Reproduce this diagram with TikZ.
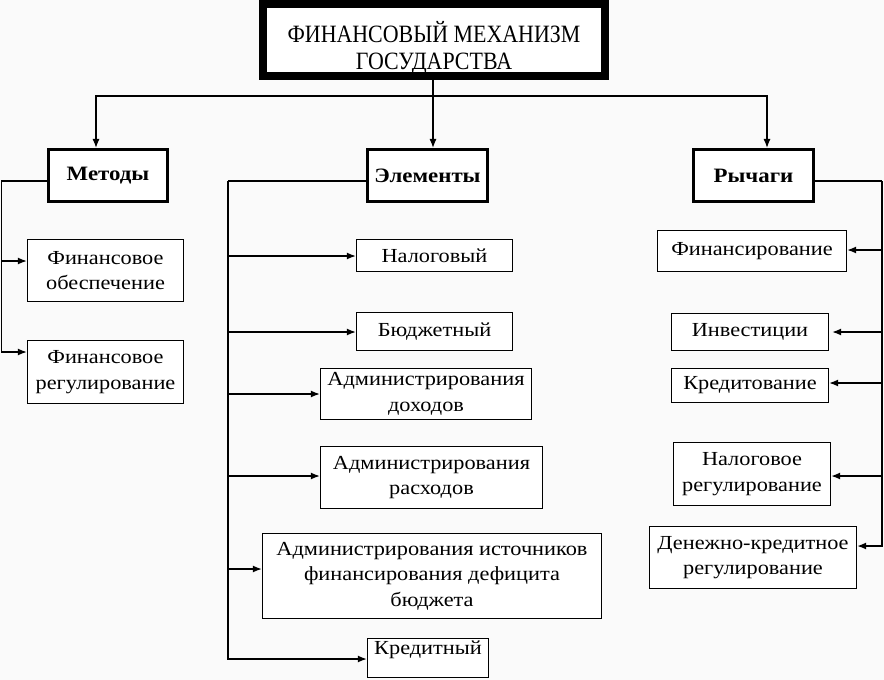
\documentclass[tikz,border=0pt]{standalone}
\usepackage{fontspec}
\setmainfont[FakeStretch=1.12]{Liberation Serif}
\newfontfamily\titlefont[FakeStretch=0.88]{Liberation Serif}
\usetikzlibrary{arrows.meta}

\definecolor{paper}{RGB}{250,250,250}

\tikzset{
  box/.style={draw=black,line width=1.4bp,fill=white,align=center,inner sep=2bp,
    font=\fontsize{20}{25.5}\selectfont},
  headbox/.style={draw=black,line width=3bp,fill=white,inner sep=2bp,
    font=\bfseries\fontsize{20.5}{22}\selectfont},
  topbox/.style={draw=black,line width=8bp,fill=white,inner sep=0bp,
    font=\titlefont\fontsize{25}{27}\selectfont},
  link/.style={line width=1.3bp},
  arr/.style={link,-{Latex[length=9bp,width=7bp]}}
}

\begin{document}
\begin{tikzpicture}[x=1bp,y=-1bp]

% Frame
\fill[paper] (0,0) rectangle (884,680);
\useasboundingbox (0,0) rectangle (884,680);

% Title
\node[topbox,minimum width=342bp,minimum height=72bp] (title) at (434,40)
  {\raisebox{-9.5bp}[\height][\depth]{\begin{tabular}{@{}c@{}}ФИНАНСОВЫЙ МЕХАНИЗМ\\ГОСУДАРСТВА\end{tabular}}};

% Heads
\node[headbox,minimum width=119bp,minimum height=52bp] (metody) at (108,175.5) {Методы};
\node[headbox,minimum width=120bp,minimum height=52bp] (elem) at (427.5,175.5) {Элементы};
\node[headbox,minimum width=120bp,minimum height=52bp] (rych) at (753.5,175.5) {Рычаги};

% Title to heads
\coordinate (tM) at (433,96);
\coordinate (tL) at (96,96);
\coordinate (tR) at (767,96);
\draw[link] (title.south -| tM) -- (tM);
\draw[arr] (tM) -- (tM |- elem.north);
\draw[arr] (tM) -- (tL) -- (tL |- metody.north);
\draw[arr] (tM) -- (tR) -- (tR |- rych.north);

% Methods
\node[box,minimum width=156bp,minimum height=62bp] (obesp) at (105.5,270.5) {Финансовое\\обеспечение};
\node[box,minimum width=156bp,minimum height=63bp] (regul) at (105.5,372) {Финансовое\\регулирование};
\coordinate (mL) at (1.5,181);
\draw[link] (metody.west |- 0,181) -- (mL);
\draw[arr] (mL) |- (obesp.west |- 0,261);
\draw[arr] (mL) |- (regul.west |- 0,352);

% Elements
\node[box,minimum width=156bp,minimum height=32bp] (nalog) at (434.5,255.5) {Налоговый};
\node[box,minimum width=156bp,minimum height=38bp] (budzh) at (434.5,331.5) {Бюджетный};
\node[box,minimum width=211bp,minimum height=51bp] (admdoh) at (426,394) {Администрирования\\доходов};
\node[box,minimum width=222bp,minimum height=62bp] (admrash) at (431.5,477.5) {Администрирования\\расходов};
\node[box,minimum width=339bp,minimum height=85bp] (admist) at (432,576)
  {Администрирования источников\\финансирования дефицита\\бюджета};
\node[box,minimum width=121bp,anchor=north,text height=14bp,text depth=21bp] (kredit) at (428,637.5) {Кредитный};
\coordinate (eL) at (228,181);
\draw[link] (elem.west |- 0,181) -- (eL);
\draw[arr] (eL) |- (nalog.west |- 0,256);
\draw[arr] (eL) |- (budzh.west |- 0,332);
\draw[arr] (eL) |- (admdoh.west |- 0,394);
\draw[arr] (eL) |- (admrash.west |- 0,476);
\draw[arr] (eL) |- (admist.west |- 0,569);
\draw[arr] (eL) |- (kredit.west |- 0,659);

% Levers
\node[box,minimum width=189bp,minimum height=41bp] (finans) at (752,251) {Финансирование};
\node[box,minimum width=157bp,minimum height=37bp] (invest) at (750,332) {Инвестиции};
\node[box,minimum width=157bp,minimum height=34bp] (kredov) at (750,385.5) {Кредитование};
\node[box,minimum width=157bp,minimum height=63bp] (nalreg) at (752,474) {Налоговое\\регулирование};
\node[box,minimum width=207bp,minimum height=62bp] (denkred) at (753,557.5) {Денежно-кредитное\\регулирование};
\coordinate (rL) at (882,181);
\draw[link] (rych.east |- 0,181) -- (rL);
\draw[arr] (rL) |- (finans.east |- 0,250);
\draw[arr] (rL) |- ([xshift=3bp]invest.east |- 0,332);
\draw[arr] (rL) |- (kredov.east |- 0,383);
\draw[arr] (rL) |- (nalreg.east |- 0,476);
\draw[arr] (rL) |- (denkred.east |- 0,546);

\end{tikzpicture}
\end{document}
